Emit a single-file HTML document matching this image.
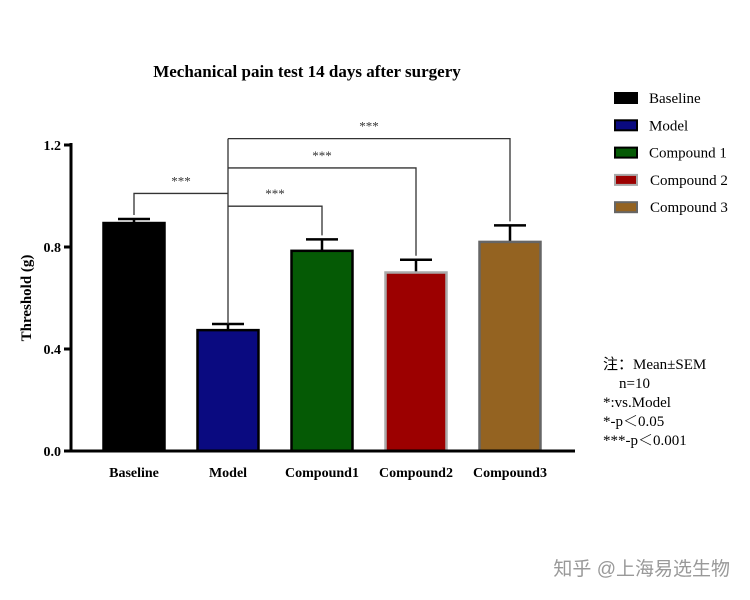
<!DOCTYPE html>
<html><head><meta charset="utf-8"><style>
html,body{margin:0;padding:0;background:#fff;}
svg{display:block;font-family:"Liberation Serif","Noto Serif CJK SC",serif;}
</style></head><body>
<svg width="750" height="600">
<text x="307" y="77" text-anchor="middle" font-size="17" font-weight="bold">Mechanical pain test 14 days after surgery</text>
<g id="plot"></g>
<text transform="translate(31,298) rotate(-90)" text-anchor="middle" font-size="15" font-weight="bold">Threshold (g)</text>
<g id="legend"></g>
<g font-size="15">
<text x="603" y="369" font-family="Liberation Serif,'Noto Sans CJK SC',serif">注：Mean±SEM</text>
<text x="619" y="388">n=10</text>
<text x="603" y="407">*:vs.Model</text>
<text x="603" y="426">*-p＜0.05</text>
<text x="603" y="445">***-p＜0.001</text>
</g>
<text x="730" y="575" text-anchor="end" font-size="19" fill="#999" font-family="Liberation Sans,'Noto Sans CJK SC',sans-serif">知乎 @上海易选生物</text>
</svg>
<script>
const categories=["Baseline","Model","Compound1","Compound2","Compound3"];
const means=[0.894,0.474,0.785,0.70,0.82];
const errors=[0.016,0.024,0.045,0.05,0.065];
const ticks=[0.0,0.4,0.8,1.2];
const tickLabels=["0.0","0.4","0.8","1.2"];
const legendLabels=["Baseline","Model","Compound 1","Compound 2","Compound 3"];
const fills=["#000","#0a0a80","#055a05","#9c0000","#946321"];
const strokes=["#000","#000","#000","#aaa","#666"];
const ns="http://www.w3.org/2000/svg";
const y0=451,yTop=145,vmax=1.2;
const y=v=>y0-(v/vmax)*(y0-yTop);
const x=i=>134+i*94;
const bw=61;
const g=document.getElementById('plot');
function mk(tag,attrs,parent){const e=document.createElementNS(ns,tag);for(const k in attrs)e.setAttribute(k,attrs[k]);(parent||g).appendChild(e);return e;}
categories.forEach((c,i)=>{
 const cx=x(i);
 const er=mk('path',{d:`M${cx} ${y(means[i])}V${y(means[i]+errors[i])}M${cx-16} ${y(means[i]+errors[i])}H${cx+16}`,stroke:'#000','stroke-width':2.5,fill:'none'});
 
 
 const r=mk('rect',{x:cx-bw/2,y:y(means[i]),width:bw,height:y0-y(means[i]),fill:fills[i],stroke:strokes[i],'stroke-width':2.5});
 
 
 const t=mk('text',{x:cx,y:477,'text-anchor':'middle','font-size':14,'font-weight':'bold'});
 t.textContent=c;
 
 
});
const ax=mk('path',{d:`M71 ${yTop-2}V${y0}H575`,stroke:'#000','stroke-width':3,fill:'none'});


ticks.forEach((v,i)=>{
 const tk=mk('line',{x1:64,x2:71,y1:y(v),y2:y(v),stroke:'#000','stroke-width':3});
 
 
 const t=mk('text',{x:61,y:y(v)+5,'text-anchor':'end','font-size':14,'font-weight':'bold'});
 t.textContent=tickLabels[i];
 
 
});
// significance brackets: [target index, bracket y value]
const brackets=[[0,1.01],[2,0.96],[3,1.11],[4,1.225]];
const mx=x(1);
const mv=mk('line',{x1:mx,x2:mx,y1:y(1.225),y2:y(means[1]+errors[1]),stroke:'#333','stroke-width':1.3});


brackets.forEach(([ti,bv])=>{
 const tx=x(ti),by=y(bv);
 const p=mk('path',{d:`M${mx} ${by}H${tx}V${y(means[ti]+errors[ti])-4}`,stroke:'#333','stroke-width':1.3,fill:'none'});
 
 
 const t=mk('text',{x:(mx+tx)/2,y:by-8,'text-anchor':'middle','font-size':13,fill:'#333'});
 t.textContent='***';
 
 
});
const lg=document.getElementById('legend');
legendLabels.forEach((l,i)=>{
 const yy=98+i*27.3;
 const r=mk('rect',{x:615,y:yy-5,width:22,height:10,fill:fills[i],stroke:strokes[i],'stroke-width':2},lg);
 
 
 const t=mk('text',{x:i>=3?650:649,y:yy+5,'font-size':15},lg);
 t.textContent=l;
 
 
});
</script>
</body></html>
